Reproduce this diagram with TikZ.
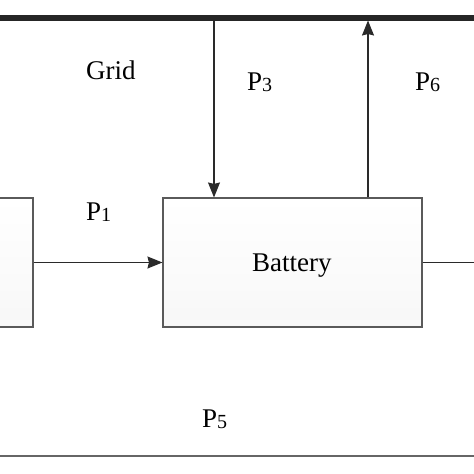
\documentclass[tikz,border=0pt]{standalone}
\usepackage{fontspec}
\setmainfont{Liberation Serif}
\usetikzlibrary{arrows.meta}
\definecolor{lineC}{HTML}{2A2A2A}
\definecolor{boxC}{HTML}{5A5A5A}
\tikzset{
  blockbox/.style={draw=boxC, line width=1.1pt, top color=white, bottom color=gray!6, inner sep=0pt},
  conn/.style={draw=lineC, line width=1.1pt},
  arr/.style={conn, -{Stealth[length=15pt,width=12pt,inset=1.5pt]}},
  lbl/.style={font=\fontsize{27}{30}\selectfont, inner sep=0pt, text=black, anchor=base west},
}
\newcommand{\Pn}[1]{P\raisebox{-1pt}{\fontsize{20}{22}\selectfont #1}}
\begin{document}
\begin{tikzpicture}[x=1pt,y=-1pt]
\useasboundingbox (0,0) rectangle (474,474);
% grid bus
\coordinate (busL) at (0,17.5);
\coordinate (busR) at (474,17.5);
\draw[line width=6pt, color=black!85] (busL) -- (busR);
% bottom bus
\coordinate (botL) at (0,456);
\coordinate (botR) at (474,456);
\draw[line width=1.6pt, color=gray!80!black] (botL) -- (botR);
% boxes
\node[blockbox, minimum width=259pt, minimum height=129pt] (bat) at (292.5,262.5) {};
\node[lbl] (batlbl) at (252,271) {Battery};
\node[blockbox, minimum width=100pt, minimum height=129pt] (src) at (-17,262.5) {};
% connectors
\coordinate (p3top) at (214,20.5);
\coordinate (p6top) at (368,20.5);
\draw[arr] (p3top) -- (bat.north -| p3top);
\draw[arr] (bat.north -| p6top) -- (p6top);
\draw[arr] (src.east) -- (bat.west);
\coordinate (outR) at (474,262.5);
\draw[conn] (bat.east) -- (outR);
% labels
\node[lbl] (grid) at (86,79) {Grid};
\node[lbl] (p3) at (247,90.5) {\Pn{3}};
\node[lbl] (p6) at (415,90.5) {\Pn{6}};
\node[lbl] (p1) at (86,220.5) {\Pn{1}};
\node[lbl] (p5) at (202,427) {\Pn{5}};
\end{tikzpicture}
\end{document}
